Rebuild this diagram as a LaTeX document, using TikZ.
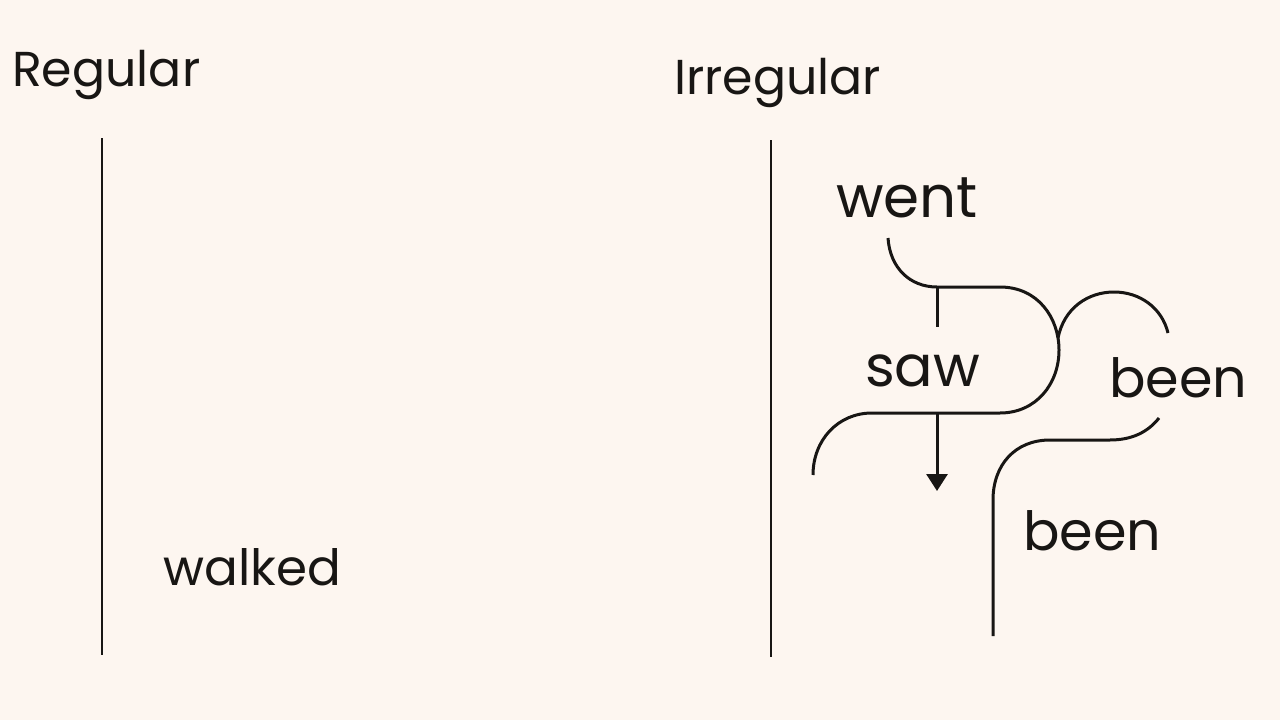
\documentclass[tikz,border=0pt]{standalone}
\usepackage{fontspec}
\setmainfont{Poppins}
\usetikzlibrary{arrows.meta}
\definecolor{bg}{RGB}{253,246,240}
\definecolor{ink}{RGB}{24,22,20}
\begin{document}
\begin{tikzpicture}[x=1pt,y=-1pt,
  lbl/.style={inner sep=0pt,anchor=base west,text=ink},
  head/.style={lbl,font=\fontsize{49}{54}\selectfont},
  word/.style={lbl,font=\fontsize{54}{60}\selectfont},
  rule/.style={draw=ink,line width=2.2pt},
  wire/.style={draw=ink,line width=3pt}]
\fill[bg] (0,0) rectangle (1280,720);
\useasboundingbox (0,0) rectangle (1280,720);
% headings
\node[head] (reg) at (12,86) {Regular};
\node[head] (irr) at (674,94) {Irregular};
% axes
\coordinate (a1) at (102,138); \coordinate (a2) at (102,655);
\coordinate (b1) at (771,140); \coordinate (b2) at (771,657);
\draw[rule] (a1) -- (a2);
\draw[rule] (b1) -- (b2);
% words
\node[word,font=\fontsize{50}{56}\selectfont] (walked) at (163,585) {walked};
\node[word,font=\fontsize{58}{64}\selectfont] (went) at (836,217) {went};
\node[word,font=\fontsize{57}{62}\selectfont] (saw) at (865,386) {saw};
\node[word] (been1) at (1109,397) {been};
\node[word] (been2) at (1023,550) {been};
% curve 1 (D-shape)
\coordinate (c1s) at (888,238);
\coordinate (c1t) at (937,287);
\coordinate (c1b) at (937,413);
\coordinate (c1e) at (813,475);
\draw[wire] (c1s) .. controls (890,268) and (910,287) .. (c1t)
  -- (1000,287) .. controls (1038,287) and (1059,318) .. (1059,350)
  .. controls (1059,384) and (1036,413) .. (1000,413)
  -- (872,413) .. controls (838,413) and (813,440) .. (c1e);
% tick and arrow
\coordinate (tk) at (937,327);
\coordinate (ar) at (937,491);
\draw[wire] (c1t) -- (tk);
\draw[wire,-{Triangle[width=21pt,length=17pt]}] (c1b) -- (ar);
% curve 2
\coordinate (c2s) at (1058,338);
\coordinate (c2e) at (1168,333);
\draw[wire] (c2s) .. controls (1064,308) and (1088,292) .. (1114,292)
  .. controls (1140,292) and (1162,308) .. (c2e);
% curve 3
\coordinate (c3s) at (1159,418);
\coordinate (c3e) at (993,636);
\draw[wire] (c3s) .. controls (1148,432) and (1132,440) .. (1110,440)
  -- (1050,440) .. controls (1015,440) and (993,465) .. (993,500) -- (c3e);
\end{tikzpicture}
\end{document}
